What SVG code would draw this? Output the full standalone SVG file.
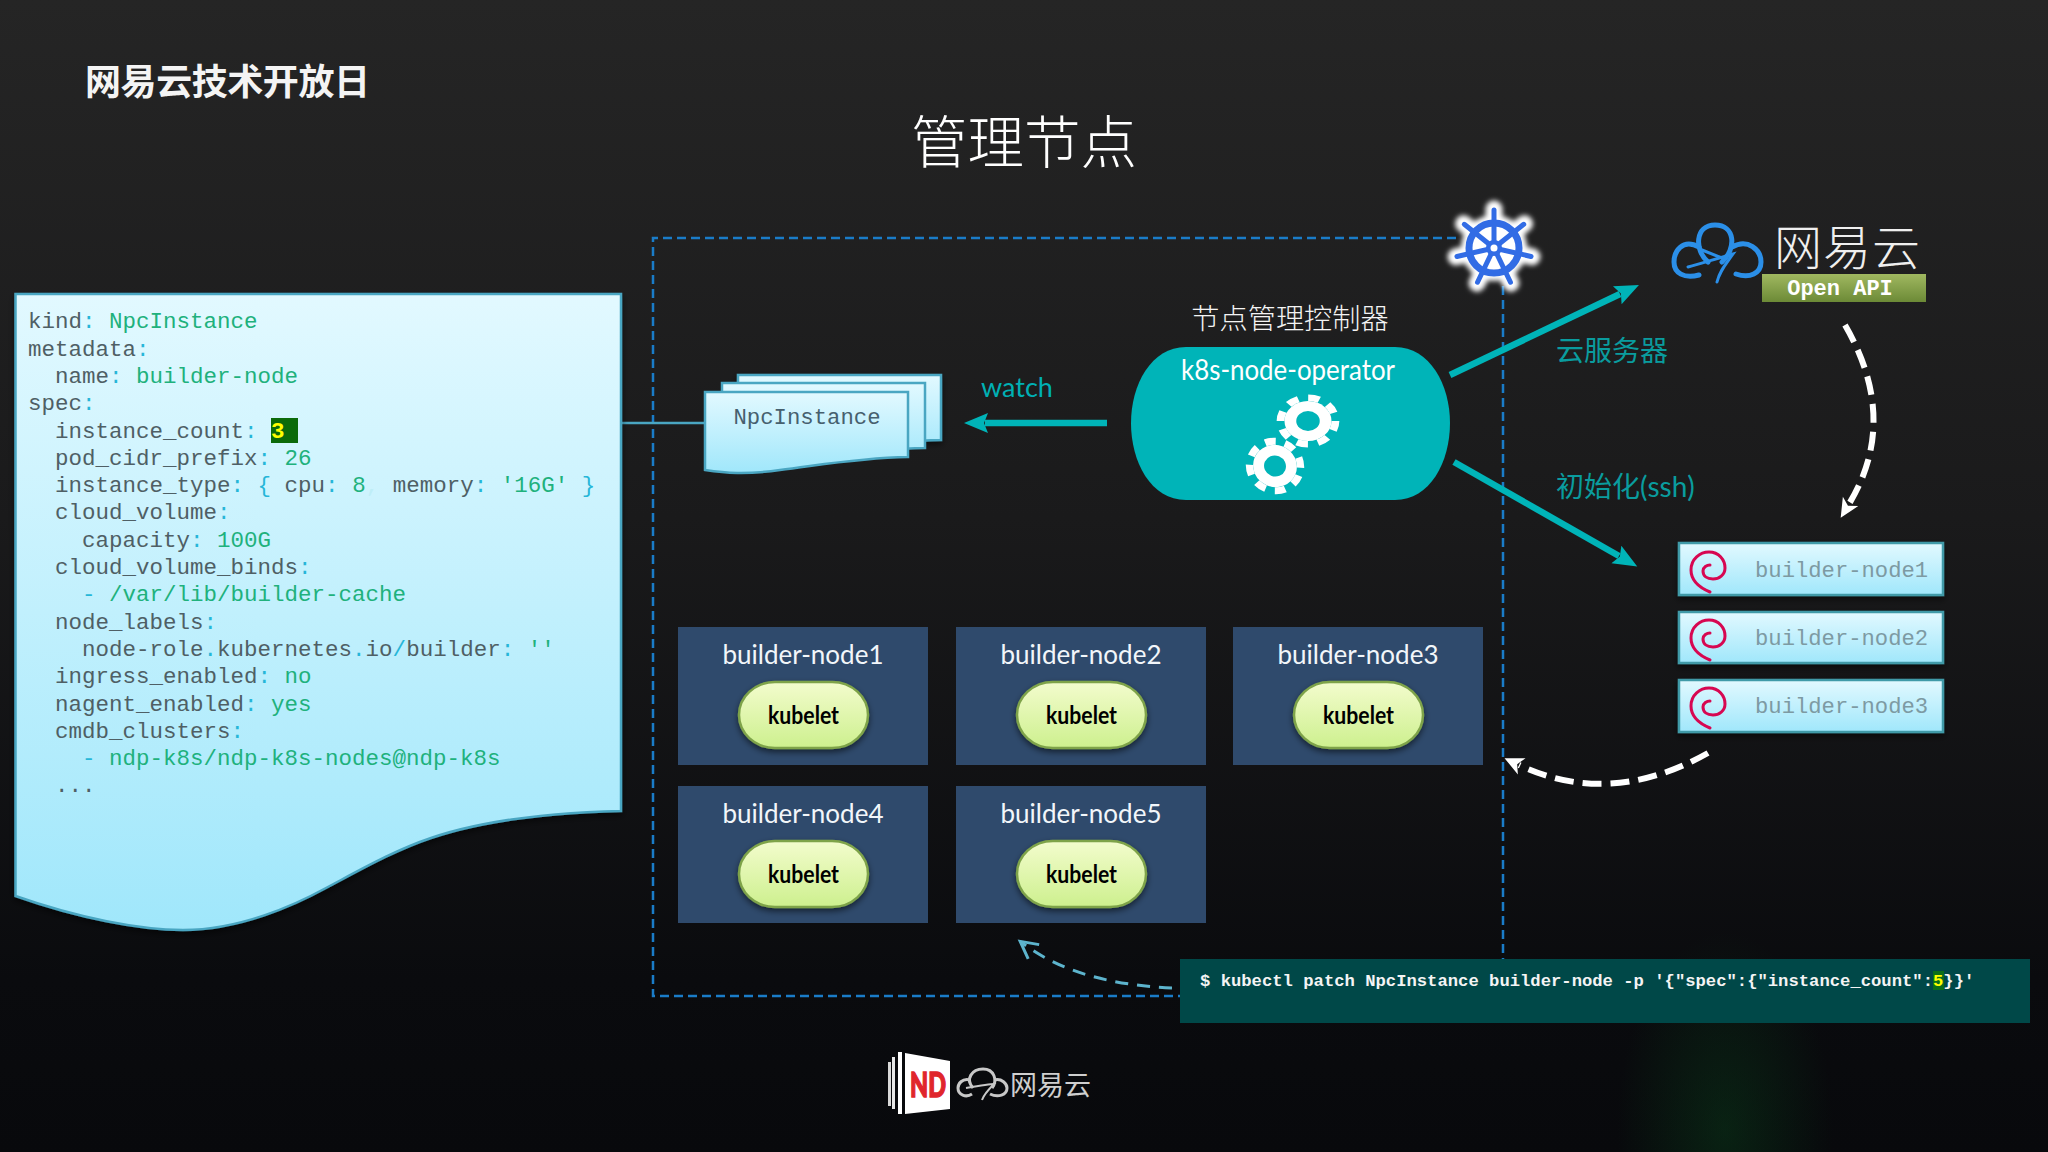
<svg xmlns="http://www.w3.org/2000/svg" width="2048" height="1152" viewBox="0 0 2048 1152">
<style>
.m{font-family:"Liberation Mono","DejaVu Sans Mono",monospace}
.y{font-size:22.5px;fill:#4f5f65}
.y .c{fill:#26b6d8}
.y .v{fill:#20b17c}
.l{font-family:Lato,"Noto Sans CJK SC",sans-serif}
.z{font-family:"Noto Sans CJK SC",sans-serif}
.bn{fill:#2f4a6c}
.bt{font-size:27.5px;fill:#f2f6fa;text-anchor:middle}
.kp{fill:url(#gk);stroke:#7ea34a;stroke-width:2.5;filter:url(#sh)}
.kt{font-size:24px;font-weight:700;fill:#000;text-anchor:middle}
.vm{fill:url(#gd);stroke:#3f9aa8;stroke-width:2.5;filter:url(#sh)}
.vt{font-size:22.2px;fill:#7d9aa3}
.deb{fill:none;stroke:#d70751;stroke-width:3;stroke-linecap:round}
.dash{fill:none;stroke:#1a7cc8;stroke-width:2.5;stroke-dasharray:9 5}
.teal{fill:none;stroke:#00b4b8;stroke-width:6.5}
.wd{fill:none;stroke:#fff;stroke-width:6;stroke-dasharray:19 9}
.doc{fill:url(#gd);stroke:#4aa6c2;stroke-width:2.5}
</style>
<defs>
<linearGradient id="bg" x1="0" y1="0" x2="0" y2="1"><stop offset="0" stop-color="#252525"/><stop offset=".45" stop-color="#1a1a1b"/><stop offset=".85" stop-color="#0a0b0e"/><stop offset="1" stop-color="#08090c"/></linearGradient>
<radialGradient id="glow" cx="1725" cy="1130" r="180" gradientUnits="userSpaceOnUse" gradientTransform="translate(1725 1130) scale(.6 1.1) translate(-1725 -1130)"><stop offset="0" stop-color="#0a4a1e" stop-opacity=".38"/><stop offset="1" stop-color="#0a4a1e" stop-opacity="0"/></radialGradient>
<linearGradient id="gd" x1="0" y1="0" x2="0" y2="1"><stop offset="0" stop-color="#e2f9ff"/><stop offset="1" stop-color="#a0e7fb"/></linearGradient>
<linearGradient id="gk" x1="0" y1="0" x2="0" y2="1"><stop offset="0" stop-color="#f3fccd"/><stop offset="1" stop-color="#cdf08e"/></linearGradient>
<linearGradient id="go" x1="0" y1="0" x2="0" y2="1"><stop offset="0" stop-color="#a0b860"/><stop offset="1" stop-color="#6c8a36"/></linearGradient>
<filter id="sh" x="-20%" y="-20%" width="140%" height="150%"><feDropShadow dx="0" dy="3" stdDeviation="3" flood-color="#000" flood-opacity=".55"/></filter>
<filter id="blur" x="-30%" y="-30%" width="160%" height="160%"><feGaussianBlur stdDeviation="2.6"/></filter>
<marker id="ta" markerUnits="userSpaceOnUse" markerWidth="30" markerHeight="26" refX="3" refY="13" orient="auto"><path d="M0 3L24 13L0 23L4 13z" fill="#00b4b8"/></marker>
<marker id="wa" markerUnits="userSpaceOnUse" markerWidth="26" markerHeight="26" refX="4" refY="13" orient="auto"><path d="M1 4L20 13L1 22L6 13z" fill="#fff"/></marker>
<marker id="ca" markerUnits="userSpaceOnUse" markerWidth="26" markerHeight="26" refX="20" refY="13" orient="auto"><path d="M4 4L21 13L4 22" fill="none" stroke="#5db4cd" stroke-width="3"/></marker>
<g id="gear"><circle r="21" fill="#fff"/><circle r="24.5" fill="none" stroke="#fff" stroke-width="7" stroke-dasharray="10.2 9.04"/><circle r="10.5" fill="#00b4b8"/></g>
<path id="sw" class="deb" d="M2 22C-10 17-17 10-17 0C-17-11-8-18 1-18C11-18 17-10 17-2C17 5 11 9 5 9C-1 9-5 6-5 1C-5-3-1-5 2-5"/>
<path id="page" d="M0 0H203V65C150 66 110 74 75 78C40 83 20 81 0 78Z" fill="url(#gd)" stroke="#4aa6c2" stroke-width="2.5"/>
<g id="spk"><line x1="0" y1="0" x2="0" y2="-38" stroke="#326ce5" stroke-width="5" stroke-linecap="round"/></g>
<g id="hal"><line x1="0" y1="0" x2="0" y2="-39" stroke="#fff" stroke-width="17" stroke-linecap="round"/></g>
</defs>
<rect id="background" width="2048" height="1152" fill="url(#bg)"/>
<rect width="2048" height="1152" fill="url(#glow)"/>

<text id="brand" class="z" x="85" y="95" font-size="36" font-weight="700" fill="#f4f4f4" textLength="285">网易云技术开放日</text>
<text id="title" class="z" x="1024" y="163" font-size="56.5" font-weight="300" fill="#fff" text-anchor="middle">管理节点</text>

<g id="frame">
<path class="dash" d="M1456 238H653V996H1180"/>
<path class="dash" d="M1503 286V959"/>
</g>

<g id="connectors">
<line x1="621" y1="423" x2="705" y2="423" stroke="#4aa6c2" stroke-width="2.5"/>
<line class="teal" x1="1107" y1="423" x2="985" y2="423" marker-end="url(#ta)"/>
<line class="teal" x1="1450" y1="375" x2="1620" y2="294" marker-end="url(#ta)"/>
<line class="teal" x1="1454" y1="462" x2="1619" y2="556" marker-end="url(#ta)"/>
<path class="wd" d="M1845 325Q1900 420 1849 504" marker-end="url(#wa)"/>
<path class="wd" d="M1708 753Q1610 808 1519 765" marker-end="url(#wa)"/>
<path fill="none" stroke="#5db4cd" stroke-width="3" stroke-dasharray="13 9" d="M1172 988C1110 985 1060 972 1021 942" marker-end="url(#ca)"/>
</g>

<g id="yaml">
<path class="doc" filter="url(#sh)" d="M15.5 294H621V811C540 813 478 822 431 838C395 850 360 870 326 888C295 905 240 930 183 930C140 930 78 918 15.5 896Z"/>
<rect x="271" y="418" width="27" height="25" fill="#0b6a0a"/>
<g class="m y">
<text x="28" y="328.4">kind<tspan class="c">:</tspan> <tspan class="v">NpcInstance</tspan></text>
<text x="28" y="355.6">metadata<tspan class="c">:</tspan></text>
<text x="55" y="382.9">name<tspan class="c">:</tspan> <tspan class="v">builder-node</tspan></text>
<text x="28" y="410.2">spec<tspan class="c">:</tspan></text>
<text x="55" y="437.5">instance_count<tspan class="c">:</tspan> <tspan fill="#ffff00" font-weight="700">3</tspan></text>
<text x="55" y="464.8">pod_cidr_prefix<tspan class="c">:</tspan> <tspan class="v">26</tspan></text>
<text x="55" y="492">instance_type<tspan class="c">:</tspan> <tspan class="c">{</tspan> cpu<tspan class="c">:</tspan> <tspan class="v">8</tspan><tspan fill="#bfeef7">,</tspan> memory<tspan class="c">:</tspan> <tspan class="v">'16G'</tspan> <tspan class="c">}</tspan></text>
<text x="55" y="519.4">cloud_volume<tspan class="c">:</tspan></text>
<text x="82" y="546.6">capacity<tspan class="c">:</tspan> <tspan class="v">100G</tspan></text>
<text x="55" y="574">cloud_volume_binds<tspan class="c">:</tspan></text>
<text x="82" y="601.2"><tspan class="c">-</tspan> <tspan class="v">/var/lib/builder-cache</tspan></text>
<text x="55" y="628.6">node_labels<tspan class="c">:</tspan></text>
<text x="82" y="655.9">node-role<tspan class="c">.</tspan>kubernetes<tspan class="c">.</tspan>io<tspan class="c">/</tspan>builder<tspan class="c">:</tspan> <tspan class="v">''</tspan></text>
<text x="55" y="683.2">ingress_enabled<tspan class="c">:</tspan> <tspan class="v">no</tspan></text>
<text x="55" y="710.5">nagent_enabled<tspan class="c">:</tspan> <tspan class="v">yes</tspan></text>
<text x="55" y="737.8">cmdb_clusters<tspan class="c">:</tspan></text>
<text x="82" y="765"><tspan class="c">-</tspan> <tspan class="v">ndp-k8s/ndp-k8s-nodes@ndp-k8s</tspan></text>
<text x="55" y="792.4">...</text>
</g>
</g>

<g id="npcinstance">
<use href="#page" x="738" y="375" filter="url(#sh)"/>
<use href="#page" x="722" y="383"/>
<use href="#page" x="705" y="392"/>
<text class="m" x="807" y="424" font-size="22.3" fill="#46606e" text-anchor="middle">NpcInstance</text>
</g>
<text id="watch" class="l" x="1017" y="397" font-size="27" fill="#00b0b4" text-anchor="middle">watch</text>

<g id="operator">
<text class="z" x="1290" y="329" font-size="28.2" font-weight="300" fill="#f4f4f4" text-anchor="middle">节点管理控制器</text>
<path d="M1186 347H1395C1430 347 1450 385 1450 423C1450 462 1430 500 1395 500H1186C1151 500 1131 462 1131 423C1131 385 1151 347 1186 347Z" fill="#00b4b8"/>
<text class="l" x="1288" y="380" font-size="28" fill="#fff" text-anchor="middle" textLength="214" lengthAdjust="spacingAndGlyphs">k8s-node-operator</text>
<use href="#gear" transform="translate(1308 421) scale(1.12 .95)"/>
<use href="#gear" transform="translate(1275 466) rotate(22) scale(1.05 1)"/>
</g>

<g id="k8s-logo">
<g filter="url(#blur)">
<circle cx="1494" cy="248" r="33" fill="#fff"/>
<use href="#hal" transform="translate(1494 248)"/><use href="#hal" transform="translate(1494 248) rotate(51.43)"/><use href="#hal" transform="translate(1494 248) rotate(102.86)"/><use href="#hal" transform="translate(1494 248) rotate(154.29)"/><use href="#hal" transform="translate(1494 248) rotate(205.71)"/><use href="#hal" transform="translate(1494 248) rotate(257.14)"/><use href="#hal" transform="translate(1494 248) rotate(308.57)"/>
</g>
<circle cx="1494" cy="248" r="25" fill="#fff" stroke="#326ce5" stroke-width="7"/>
<use href="#spk" transform="translate(1494 248)"/><use href="#spk" transform="translate(1494 248) rotate(51.43)"/><use href="#spk" transform="translate(1494 248) rotate(102.86)"/><use href="#spk" transform="translate(1494 248) rotate(154.29)"/><use href="#spk" transform="translate(1494 248) rotate(205.71)"/><use href="#spk" transform="translate(1494 248) rotate(257.14)"/><use href="#spk" transform="translate(1494 248) rotate(308.57)"/>
<circle cx="1494" cy="248" r="8" fill="#326ce5"/><circle cx="1494" cy="248" r="3.5" fill="#fff"/>
</g>

<g id="netease-cloud">
<g fill="none" stroke="#2b8fe8" stroke-width="5" stroke-linecap="round">
<path d="M1708 262C1694 250 1695 225 1715 225C1735 225 1737 248 1722 262"/>
<path d="M1699 247C1682 238 1674 252 1674 262C1674 273 1684 279 1699 275"/>
<path d="M1732 247C1748 238 1761 250 1761 262C1761 273 1750 279 1736 274"/>
<path d="M1688 267C1700 264 1712 260 1733 254C1726 264 1720 270 1717 282" stroke-width="3"/>
<path d="M1702 250L1722 258" stroke-width="3"/>
</g>
<text class="z" x="1774" y="265" font-size="48" font-weight="300" fill="#efefef" textLength="146">网易云</text>
<rect x="1762" y="274" width="164" height="28" fill="url(#go)"/>
<text class="m" x="1840" y="295" font-size="22" font-weight="700" fill="#fff" text-anchor="middle">Open API</text>
</g>
<text id="label-vm" class="l" x="1556" y="361" font-size="28" fill="#0a9c9e">云服务器</text>
<text id="label-ssh" class="l" x="1556" y="497" font-size="28" fill="#0a9c9e">初始化(ssh)</text>

<g id="vm1"><rect class="vm" x="1679" y="543" width="264" height="52"/><use href="#sw" x="1708" y="570"/><text class="m vt" x="1755" y="576.5">builder-node1</text></g>
<g id="vm2"><rect class="vm" x="1679" y="612" width="264" height="51"/><use href="#sw" x="1708" y="638"/><text class="m vt" x="1755" y="644.5">builder-node2</text></g>
<g id="vm3"><rect class="vm" x="1679" y="680" width="264" height="52"/><use href="#sw" x="1708" y="706"/><text class="m vt" x="1755" y="712.5">builder-node3</text></g>

<g id="node1"><rect class="bn" x="678" y="627" width="250" height="138"/><text class="l bt" x="803" y="664" textLength="161" lengthAdjust="spacingAndGlyphs">builder-node1</text><rect class="kp" x="739" y="682" width="129" height="66" rx="36" ry="33"/><text class="l kt" x="803.5" y="724" textLength="71" lengthAdjust="spacingAndGlyphs">kubelet</text></g>
<g id="node2"><rect class="bn" x="956" y="627" width="250" height="138"/><text class="l bt" x="1081" y="664" textLength="161" lengthAdjust="spacingAndGlyphs">builder-node2</text><rect class="kp" x="1017" y="682" width="129" height="66" rx="36" ry="33"/><text class="l kt" x="1081.5" y="724" textLength="71" lengthAdjust="spacingAndGlyphs">kubelet</text></g>
<g id="node3"><rect class="bn" x="1233" y="627" width="250" height="138"/><text class="l bt" x="1358" y="664" textLength="161" lengthAdjust="spacingAndGlyphs">builder-node3</text><rect class="kp" x="1294" y="682" width="129" height="66" rx="36" ry="33"/><text class="l kt" x="1358.5" y="724" textLength="71" lengthAdjust="spacingAndGlyphs">kubelet</text></g>
<g id="node4"><rect class="bn" x="678" y="786" width="250" height="137"/><text class="l bt" x="803" y="823" textLength="161" lengthAdjust="spacingAndGlyphs">builder-node4</text><rect class="kp" x="739" y="841" width="129" height="66" rx="36" ry="33"/><text class="l kt" x="803.5" y="883" textLength="71" lengthAdjust="spacingAndGlyphs">kubelet</text></g>
<g id="node5"><rect class="bn" x="956" y="786" width="250" height="137"/><text class="l bt" x="1081" y="823" textLength="161" lengthAdjust="spacingAndGlyphs">builder-node5</text><rect class="kp" x="1017" y="841" width="129" height="66" rx="36" ry="33"/><text class="l kt" x="1081.5" y="883" textLength="71" lengthAdjust="spacingAndGlyphs">kubelet</text></g>

<g id="command">
<rect x="1180" y="959" width="850" height="64" fill="#004848"/>
<rect x="1933" y="971" width="11" height="19" fill="#0a6e1a"/>
<text class="m" x="1200" y="986" font-size="17.22" font-weight="700" fill="#f4f4f4">$ kubectl patch NpcInstance builder-node -p '{"spec":{"instance_count":<tspan fill="#ffff00">5</tspan>}}'</text>
</g>

<g id="footer-logo">
<rect x="888" y="1062" width="3" height="44" fill="#d8d8d8"/><rect x="892" y="1057" width="3" height="52" fill="#e8e8e8"/>
<rect x="898" y="1052" width="4" height="62" fill="#fff"/>
<path d="M905 1053L950 1061V1109L905 1114Z" fill="#fff"/>
<text class="l" x="928" y="1097" font-size="35" font-weight="900" fill="#e0262c" stroke="#e0262c" stroke-width="1.5" text-anchor="middle" textLength="36" lengthAdjust="spacingAndGlyphs">ND</text>
<g fill="none" stroke="#c8c8c8" stroke-width="3">
<path d="M973 1088C965 1079 972 1069 983 1069C994 1069 998 1080 992 1088"/>
<path d="M970 1080C962 1078 958 1084 958 1088C958 1095 966 1098 972 1094"/>
<path d="M994 1080C1002 1078 1007 1084 1007 1088C1007 1095 998 1098 990 1094"/>
<path d="M966 1088C978 1086 990 1084 994 1084C988 1090 984 1094 982 1100" stroke-width="2"/>
</g>
<text class="z" x="1010" y="1095" font-size="27" fill="#cfcfcf" textLength="81">网易云</text>
</g>
</svg>
